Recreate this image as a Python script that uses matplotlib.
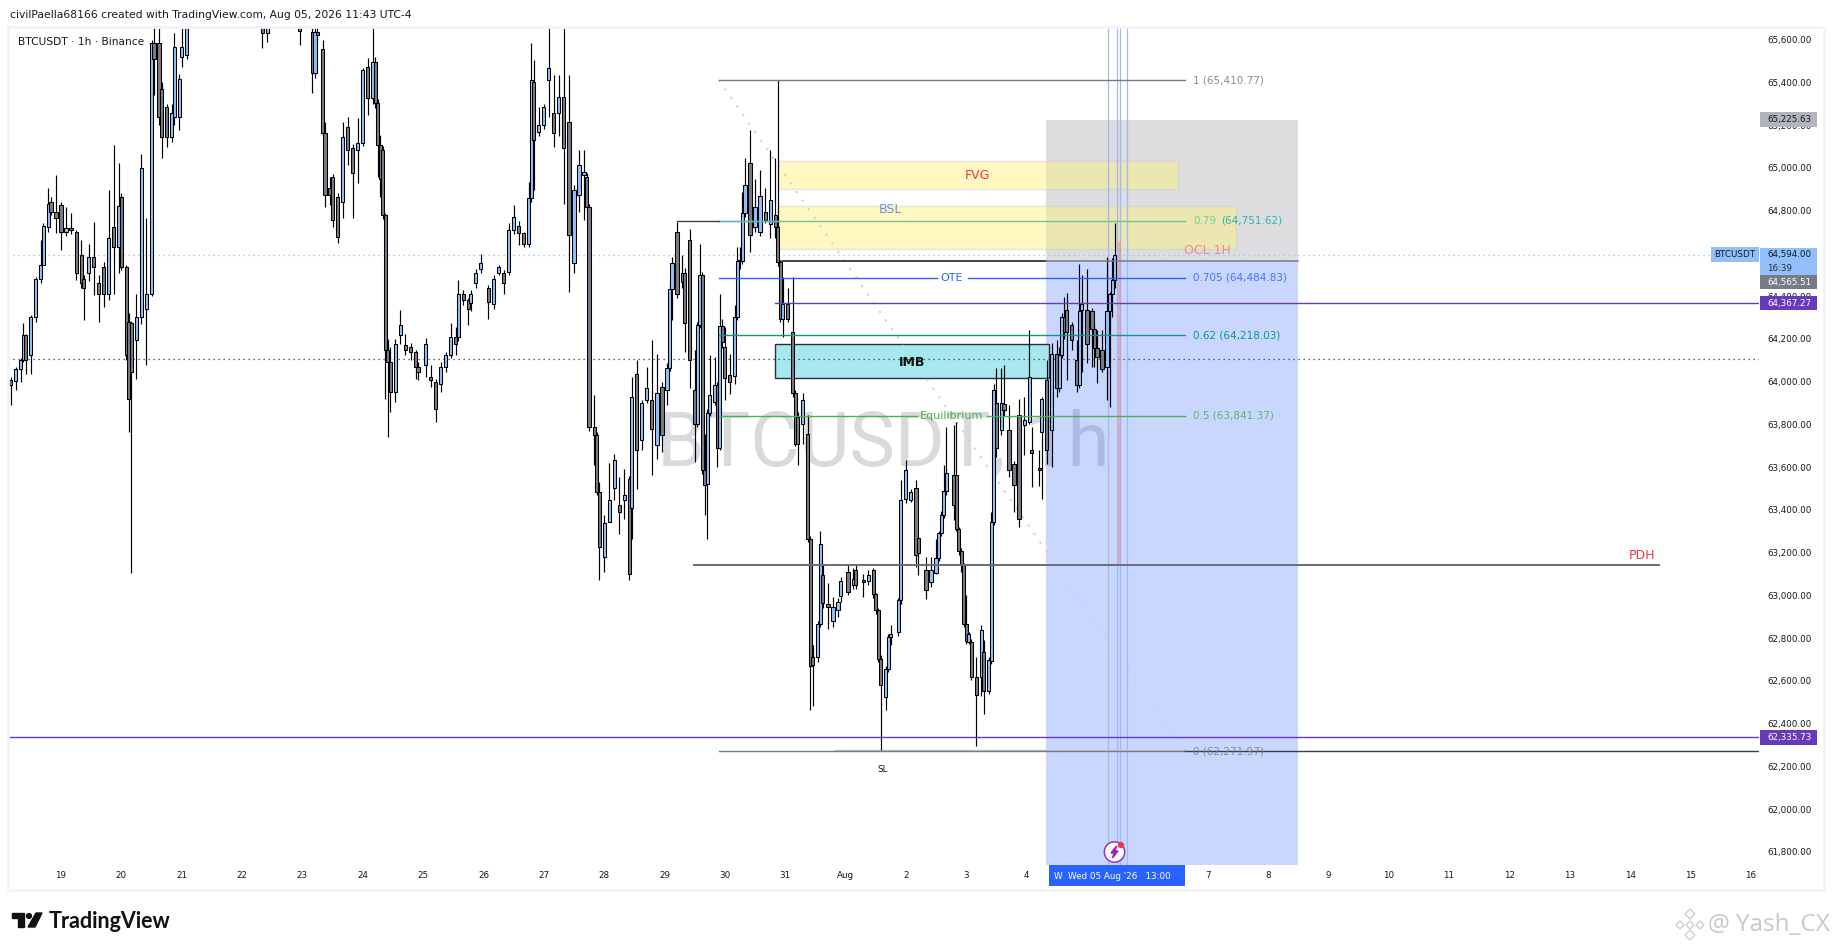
import matplotlib
matplotlib.use("Agg")
import matplotlib.pyplot as plt
from matplotlib.patches import Rectangle, Circle, Polygon

# === candles (hour counted from Jul 18 04:00) ===
hours = [0, 2, 4, 5, 6, 8, 10, 12, 13, 15, 16, 18, 20, 22, 24, 26, 28, 29, 31, 33,
         35, 37, 39, 41, 43, 44, 46, 47, 48, 50, 52, 54, 56, 57, 59, 60, 62, 64, 65, 67,
         68, 70, 74, 80, 86, 92, 98, 100, 102, 106, 112, 115, 120, 121, 122, 124, 125, 127, 128, 130,
         132, 134, 136, 138, 140, 142, 144, 145, 146, 147, 148, 149, 150, 151, 153, 155, 157, 159, 161, 162,
         165, 167, 169, 171, 173, 175, 177, 178, 180, 182, 183, 185, 187, 190, 192, 194, 196, 198, 200, 202,
         204, 206, 207, 208, 210, 212, 214, 216, 218, 220, 222, 224, 226, 228, 229, 230, 232, 233, 234, 236,
         238, 240, 242, 244, 246, 247, 249, 251, 253, 255, 257, 259, 261, 262, 263, 265, 267, 268, 270, 272,
         273, 274, 275, 276, 277, 278, 280, 281, 282, 283, 284, 286, 288, 289, 290, 291, 292, 294, 296, 298,
         300, 302, 304, 305, 306, 307, 309, 311, 312, 313, 315, 317, 318, 319, 321, 322, 323, 325, 327, 329,
         330, 333, 335, 336, 339, 341, 343, 344, 345, 346, 348, 349, 350, 353, 354, 356, 358, 360, 361, 364,
         366, 368, 369, 370, 371, 372, 375, 376, 377, 378, 379, 380, 381, 382, 384, 386, 387, 389, 390, 391,
         392, 394, 395, 397, 399, 401, 403, 405, 406, 409, 410, 412, 414, 416, 417, 418, 419, 420, 422, 424,
         425, 426, 428, 430, 431, 432, 434, 436, 437, 438, 439]
opens = [64007, 64001, 64061, 64103, 64217, 64123, 64303, 64478, 64545, 64724, 64841, 64794, 64826, 64701, 64720, 64701, 64592, 64482, 64506, 64584,
         64459, 64537, 64412, 64721, 64628, 64865, 64537, 64280, 64275, 64197, 64303, 64342, 64412, 65585, 65585, 65367, 65283, 65142, 65236, 65236,
         65520, 65530, 65700, 65820, 66000, 65950, 65900, 65850, 65629, 65700, 65850, 65800, 65637, 65442, 65637, 65554, 65164, 64904, 64958, 64865,
         64841, 65192, 65091, 65083, 65114, 65473, 65325, 65496, 65301, 65106, 65083, 64779, 64147, 64092, 63952, 64217, 64170, 64163, 64139, 64069,
         64077, 64022, 64000, 63990, 64069, 64123, 64209, 64209, 64412, 64381, 64368, 64459, 64529, 64436, 64365, 64506, 64506, 64514, 64709, 64727,
         64693, 64646, 64857, 65403, 65169, 65200, 65411, 65255, 65258, 65333, 65216, 64553, 64873, 64966, 64958, 64818, 63788, 63752, 63484, 63180,
         63344, 63503, 63425, 63445, 63543, 63411, 64038, 63729, 63913, 63913, 63702, 63975, 63963, 64066, 64431, 64698, 64506, 64506, 64662, 63963,
         63804, 64267, 64501, 63585, 63523, 63854, 63905, 63983, 63691, 64261, 64160, 64030, 64025, 64303, 64565, 64565, 64787, 65021, 64724, 64701,
         64794, 64735, 64779, 64721, 64560, 64295, 64365, 64230, 63947, 63835, 63803, 63753, 63265, 62711, 62711, 62867, 63094, 62961, 62880, 62930,
         62995, 63109, 63047, 63120, 63070, 63067, 63120, 63005, 62930, 62704, 62525, 62657, 62805, 62829, 62977, 63452, 63448, 63504, 63268, 63120,
         63063, 63105, 63176, 63292, 63378, 63488, 63565, 63565, 63312, 63207, 63140, 62867, 62782, 62782, 62618, 62618, 62735, 62555, 62693, 63343,
         63902, 63772, 63897, 63772, 63616, 63846, 63796, 63811, 63682, 63598, 63764, 64006, 63773, 64128, 63969, 64124, 64303, 64337, 64267, 64103,
         63986, 64334, 64334, 64330, 64248, 64158, 64147, 64069, 64330, 64408, 64475]
highs = [64022, 64069, 64110, 64272, 64225, 64310, 64490, 64662, 64740, 64904, 64865, 64966, 64840, 64818, 64787, 64710, 64662, 64500, 64646, 64748,
         64500, 64560, 64896, 65106, 65021, 64880, 64545, 64320, 64285, 64412, 65067, 64763, 65600, 65680, 65652, 65400, 65300, 65300, 65629, 65440,
         65652, 65800, 65900, 66050, 66100, 66000, 65950, 65900, 65800, 65900, 65900, 65850, 65700, 65700, 65700, 65600, 65216, 64958, 64970, 64880,
         65216, 65239, 65110, 65231, 65465, 65512, 65652, 65520, 65320, 65153, 65100, 64790, 64200, 64160, 64200, 64334, 64225, 64180, 64150, 64090,
         64202, 64080, 64010, 64090, 64140, 64272, 64256, 64475, 64430, 64390, 64428, 64529, 64599, 64450, 64500, 64545, 64520, 64740, 64826, 64750,
         64700, 64935, 65582, 65504, 65283, 65300, 65652, 65434, 65434, 65652, 65434, 64920, 65083, 65083, 64975, 64830, 63936, 63765, 63531, 63375,
         63620, 63663, 63554, 63589, 63560, 64022, 64100, 63913, 64069, 64197, 64131, 64000, 64085, 64467, 64584, 64748, 64592, 64530, 64716, 64147,
         64280, 64646, 64515, 63757, 63870, 64124, 64116, 64000, 64408, 64295, 64256, 64131, 64358, 64631, 64631, 64888, 65044, 65177, 64950, 64989,
         64904, 65083, 65044, 65410, 64570, 64490, 64436, 64490, 63960, 63860, 63947, 63846, 63280, 62766, 62880, 63300, 63140, 63059, 62992, 62990,
         63085, 63140, 63130, 63145, 63100, 63117, 63130, 63010, 62940, 62720, 62670, 62820, 62860, 62990, 63538, 63632, 63500, 63540, 63273, 63180,
         63180, 63265, 63300, 63395, 63608, 63788, 63796, 63811, 63320, 63220, 63150, 63000, 62830, 62795, 62711, 62860, 62790, 62710, 63390, 63991,
         64063, 64063, 64077, 63890, 63630, 63920, 63928, 64241, 63788, 63679, 63930, 64100, 64180, 64194, 64160, 64320, 64397, 64415, 64280, 64194,
         64548, 64498, 64525, 64345, 64264, 64241, 64241, 64584, 64420, 64576, 64740]
lows = [63890, 63960, 64000, 64090, 64038, 64038, 64280, 64460, 64615, 64700, 64780, 64693, 64615, 64680, 64690, 64475, 64440, 64287, 64470, 64404,
        64280, 64350, 64380, 64412, 64506, 64520, 64100, 63765, 63103, 64014, 64270, 64077, 64400, 65340, 65200, 65044, 65099, 65120, 65200, 65177,
        65473, 65510, 65680, 65780, 65900, 65850, 65840, 65559, 65590, 65680, 65680, 65574, 65351, 65420, 65590, 65150, 64818, 64826, 64724, 64649,
        64763, 65013, 64763, 64927, 65100, 65247, 65300, 65280, 64958, 64865, 64760, 63921, 63741, 63858, 63905, 64178, 64124, 64100, 64014, 64007,
        64022, 63975, 63812, 63952, 64046, 64110, 64124, 64190, 64360, 64264, 64330, 64440, 64510, 64295, 64340, 64500, 64412, 64500, 64690, 64640,
        64631, 64630, 64840, 64896, 65150, 65180, 65239, 65099, 65150, 64833, 64420, 64506, 64794, 64755, 64800, 63770, 63609, 63470, 63071, 63110,
        63398, 63445, 63289, 63359, 63071, 63266, 63500, 63679, 63900, 63562, 63640, 63671, 63890, 64050, 64287, 64389, 64440, 64139, 63968, 63624,
        63790, 64250, 63570, 63375, 63266, 63840, 63890, 63601, 63680, 64155, 63913, 63944, 63990, 64290, 64529, 64550, 64770, 64607, 64700, 64680,
        64740, 64670, 64670, 64540, 64280, 64209, 64280, 63930, 63700, 63608, 63710, 63250, 62462, 62485, 62690, 62850, 62940, 62844, 62852, 62900,
        62970, 63000, 63030, 63030, 62992, 63050, 62990, 62915, 62690, 62275, 62462, 62640, 62766, 62810, 62960, 63430, 63437, 63133, 63094, 62984,
        63040, 63101, 63160, 63280, 63360, 63470, 63351, 63300, 63190, 63109, 62850, 62774, 62774, 62605, 62298, 62530, 62446, 62540, 62680, 63330,
        63647, 63750, 63840, 63554, 63390, 63320, 63655, 63800, 63507, 63510, 63452, 63616, 63600, 63927, 63950, 64110, 64200, 64007, 64147, 63952,
        63970, 64046, 64085, 64069, 64069, 63994, 64046, 63913, 63880, 64300, 64440]
closes = [63983, 64061, 64103, 64217, 64103, 64303, 64478, 64545, 64727, 64833, 64794, 64763, 64701, 64720, 64708, 64506, 64459, 64440, 64584, 64537,
          64412, 64412, 64674, 64631, 64822, 64537, 64123, 63918, 64046, 64303, 65000, 64412, 65582, 65507, 65236, 65142, 65142, 65255, 65567, 65414,
          65567, 65700, 65820, 66000, 65950, 65900, 65850, 65629, 65700, 65850, 65800, 65640, 65442, 65637, 65620, 65164, 64872, 64872, 64755, 64677,
          65145, 65083, 64974, 65114, 65457, 65325, 65496, 65301, 65106, 64946, 64779, 64147, 64092, 63952, 64178, 64264, 64147, 64139, 64069, 64046,
          64178, 64007, 63874, 64069, 64123, 64209, 64178, 64412, 64381, 64342, 64412, 64506, 64553, 64373, 64482, 64537, 64462, 64709, 64768, 64693,
          64646, 64857, 65411, 65130, 65200, 65283, 65465, 65161, 65333, 65091, 64685, 64896, 65013, 64982, 64818, 63788, 63752, 63484, 63227, 63339,
          63448, 63635, 63391, 63472, 63102, 63926, 63682, 63902, 63968, 63780, 63949, 63749, 64066, 64431, 64557, 64412, 64467, 64272, 64100, 63804,
          64267, 64501, 63585, 63518, 63854, 63939, 63983, 63691, 64261, 64186, 64019, 63999, 64303, 64565, 64570, 64787, 64922, 64685, 64815, 64869,
          64755, 64849, 64721, 64560, 64295, 64365, 64295, 63947, 63710, 63710, 63916, 63265, 62672, 62675, 62867, 63242, 62964, 62945, 62945, 62969,
          63067, 63016, 63078, 63047, 63065, 63094, 63005, 62930, 62704, 62579, 62657, 62805, 62821, 62977, 63448, 63588, 63484, 63190, 63200, 63027,
          63120, 63176, 63292, 63378, 63488, 63573, 63421, 63312, 63207, 63140, 62867, 62786, 62821, 62618, 62535, 62836, 62555, 62696, 63343, 63963,
          63691, 63902, 63869, 63588, 63515, 63359, 63819, 64022, 63666, 63585, 63920, 63682, 64128, 63969, 64124, 64303, 64230, 64230, 64194, 63986,
          64330, 64365, 64178, 64248, 64158, 64116, 64061, 64330, 64408, 64475, 64594]

# price axis and day axis
y_ticks = [61800, 62000, 62200, 62400, 62600, 62800, 63000, 63200, 63400, 63600, 63800, 64000, 64200,
           64400, 64600, 64800, 65000, 65200, 65400, 65600]
day_ticks = [19, 20, 21, 22, 23, 24, 25, 26, 27, 28, 29, 30, 31, 32, 33, 34, 35, 38, 39, 40, 41, 42, 43, 44, 45, 46, 47]
day_labels = ["19", "20", "21", "22", "23", "24", "25", "26", "27", "28", "29", "30", "31", "Aug", "2", "3", "4",
              "7", "8", "9", "10", "11", "12", "13", "14", "15", "16"]
start_day = 18 + 4 / 24

# fib levels
fib_names = ["1", "0.705", "0.62", "0.5", "0"]
fib_prices = [65410.77, 64484.83, 64218.03, 63841.37, 62271.97]
fib_colors = ["#787b86", "#2962ff", "#089981", "#4caf50", "#787b86"]
fib_79 = 64751.62
fib_x = [29.90, 37.63]

last_price = 64594.00
purple_prices = [64367.27, 62335.73]
entry_price = 64565.51
target_price = 65225.63
pdh_price = 63141
dotted_price = 64105

W, H = 1835, 951
fig = plt.figure(figsize=(W / 100, H / 100), dpi=100, facecolor="white")
ax = fig.add_axes([8 / W, 1 - 865 / H, 1751 / W, 838 / H])
ax.set_xlim(18.1218, 47.1363)
ax.set_ylim(61739.1, 65658.7)
for s in ax.spines.values():
    s.set_visible(False)

# frame around pane and scales
fig.add_artist(Rectangle((8 / W, 1 - 890 / H), 1816 / W, 863 / H, transform=fig.transFigure,
                         fill=False, edgecolor="#f2f3f5", linewidth=2))

# ticks
ax.yaxis.tick_right()
ax.set_yticks(y_ticks)
ax.set_yticklabels([f"{v:,.2f}" for v in y_ticks], fontsize=6.3, color="#131722")
ax.tick_params(axis="y", length=0, pad=5.8)
ax.set_xticks(day_ticks)
ax.set_xticklabels(day_labels, fontsize=6.3, color="#131722")
ax.tick_params(axis="x", length=0, pad=4.5)

# watermark
ax.text(32.62, 63700, "BTCUSDT, 1h", fontsize=55, color="#d9dadd", family="Roboto",
        ha="center", va="center", zorder=0.5)

# boxes
box_x = [35.32, 39.505]
ax.add_patch(Rectangle((box_x[0], entry_price), box_x[1] - box_x[0], target_price - entry_price,
                       facecolor="#787b86", alpha=0.25, edgecolor="none", zorder=1))
ax.add_patch(Rectangle((box_x[0], 61739.1), box_x[1] - box_x[0], entry_price - 61739.1,
                       facecolor="#2962ff", alpha=0.25, edgecolor="none", zorder=1))
ax.add_patch(Rectangle((30.889, 64900), 37.503 - 30.889, 65032 - 64900,
                       facecolor="#fff176", alpha=0.45, edgecolor="#c9cbd1", linewidth=1, zorder=1.2))
ax.add_patch(Rectangle((30.889, 64620), 38.47 - 30.889, 64821 - 64620,
                       facecolor="#fff176", alpha=0.45, edgecolor="#c9cbd1", linewidth=1, zorder=1.2))
ax.add_patch(Rectangle((30.837, 64016), 35.378 - 30.837, 64175 - 64016,
                       facecolor="#a5e8ef", edgecolor="#2a2e39", linewidth=1, zorder=1.3))

# dotted trend line of the fib
ax.plot([29.90, 37.63], [65410.77, 62271.97], color="#cfd0d5", lw=1.5, ls=(0, (1, 4)), zorder=1.4)

# dotted price lines
ax.axhline(last_price, color="#90bff9", lw=0.9, ls=(0, (1, 3)), zorder=1.5)
ax.axhline(dotted_price, color="#333333", lw=0.9, ls=(0, (1, 3)), zorder=1.5)

# vertical lines
for vx in [36.342, 36.506, 36.548, 36.672]:
    ax.axvline(vx, color="#9fb9f7", lw=0.9, zorder=1.6)
ax.plot([36.527, 36.527], [pdh_price, 64657], color="#e8888e", lw=1.8, alpha=0.6, zorder=1.7, solid_capstyle="butt")

# candles
days = [start_day + h / 24 for h in hours]
body_w = 0.052
for x, o, hi, lo, c in zip(days, opens, highs, lows, closes):
    ax.plot([x, x], [lo, hi], color="black", lw=0.85, zorder=3, solid_capstyle="butt")
    ax.add_patch(Rectangle((x - body_w / 2, min(o, c)), body_w, abs(c - o),
                           facecolor="#90bff9" if c >= o else "#787b86",
                           edgecolor="black", linewidth=0.75, zorder=3.1))

# fib lines, OTE and Equilibrium keep a gap for the label
for name, p, col in zip(fib_names, fib_prices, fib_colors):
    if name == "0.705":
        ax.plot([fib_x[0], 33.515], [p, p], color=col, lw=1, zorder=4)
        ax.plot([34.029, fib_x[1]], [p, p], color=col, lw=1, zorder=4)
    elif name == "0.5":
        ax.plot([fib_x[0], 33.184], [p, p], color=col, lw=1, zorder=4)
        ax.plot([34.344, fib_x[1]], [p, p], color=col, lw=1, zorder=4)
    else:
        ax.plot(fib_x, [p, p], color=col, lw=1, zorder=4)
    ax.text(37.757, p, f"{name} ({p:,.2f})", color=col, fontsize=7.5, va="center", zorder=6,
            alpha=0.85 if name not in ("0.62",) else 1)
ax.plot(fib_x, [fib_79, fib_79], color="#6fc49a", lw=1, zorder=4)
ax.plot([29.90, 30.9], [fib_79, fib_79], color="#5bb6c4", lw=1, zorder=4)
ax.plot([29.207, 29.90], [fib_79, fib_79], color="#444444", lw=1, zorder=4)
ax.text(37.757, fib_79, "0.79", color="#6fcf97", fontsize=7.5, va="center", zorder=6)
ax.text(38.22, fib_79, f"({fib_79:,.2f})", color="#27b5b5", fontsize=7.5, va="center", zorder=6)

# horizontal lines
ax.plot([37.63, 47.1363], [62271.97, 62271.97], color="#3a3d46", lw=1, zorder=4)
ax.plot([31.825, 37.63], [62279, 62279], color="#c4c6cc", lw=1, zorder=1.9)
ax.plot([30.947, 35.322], [entry_price, entry_price], color="#111111", lw=1.1, zorder=4)
ax.plot([35.322, 39.505], [entry_price, entry_price], color="#787b86", lw=1.1, zorder=4)
ax.plot([29.489, 45.48], [pdh_price, pdh_price], color="#6a6d76", lw=1.4, zorder=4)
ax.plot([30.831, 47.1363], [purple_prices[0], purple_prices[0]], color="#673ab7", lw=1, zorder=4)
ax.plot([18.1218, 47.1363], [purple_prices[1], purple_prices[1]], color="#673ab7", lw=1, zorder=4)

# labels on drawings
ax.text(34.178, 64966, "FVG", color="#f23645", fontsize=9, ha="center", va="center", zorder=6)
ax.text(32.737, 64807, "BSL", color="#6f8fd8", fontsize=9, ha="center", va="center", zorder=6)
ax.text(37.99, 64615, "OCL 1H", color="#ef8a92", fontsize=9, ha="center", va="center", zorder=6)
ax.text(33.10, 64090, "IMB", color="#111111", fontsize=9, weight="bold", ha="center", va="center", zorder=6)
ax.text(33.764, 64484.83, "OTE", color="#2962ff", fontsize=8, ha="center", va="center", zorder=6)
ax.text(33.764, 63841.37, "Equilibrium", color="#4caf50", fontsize=8, ha="center", va="center", zorder=6)
ax.text(32.62, 62186, "SL", color="#111111", fontsize=6.3, ha="center", va="center", zorder=6)
ax.text(45.2, 63185, "PDH", color="#f23645", fontsize=9, ha="center", va="center", zorder=6)

# price tags on the right scale
yt = ax.get_yaxis_transform()


def tag(center, half, text, bg, fg):
    ax.add_patch(Rectangle((1.0006, center - half), 0.0325, 2 * half, transform=yt, clip_on=False,
                           facecolor=bg, edgecolor="none", zorder=10))
    ax.text(1.0046, center, text, transform=yt, color=fg, fontsize=6.3, va="center", ha="left", zorder=11)


tag(target_price, 35, f"{target_price:,.2f}", "#b2b5be", "#131722")
ax.add_patch(Rectangle((1.0006, 64498), 0.0325, 127, transform=yt, clip_on=False,
                       facecolor="#90bff9", edgecolor="none", zorder=10))
ax.text(1.0046, last_price, f"{last_price:,.2f}", transform=yt, color="#131722", fontsize=6.3, va="center", zorder=11)
ax.text(1.0046, 64530, "16:39", transform=yt, color="#2a2e39", fontsize=6.3, va="center", zorder=11)
tag(64465, 33, f"{entry_price:,.2f}", "#787b86", "white")
tag(purple_prices[0], 34, f"{purple_prices[0]:,.2f}", "#673ab7", "white")
tag(purple_prices[1], 34, f"{purple_prices[1]:,.2f}", "#673ab7", "white")
ax.add_patch(Rectangle((0.9726, last_price - 35), 0.0274, 70, transform=yt, clip_on=False,
                       facecolor="#90bff9", edgecolor="none", zorder=10))
ax.text(0.9863, last_price, "BTCUSDT", transform=yt, color="#131722", fontsize=6.3, ha="center", va="center", zorder=11)

# time tag on the bottom scale
xt = ax.get_xaxis_transform()
ax.add_patch(Rectangle((35.378, -0.0251), 37.63 - 35.378, 0.0251, transform=xt, clip_on=False,
                       facecolor="#2962ff", edgecolor="none", zorder=10))
ax.text(35.52, -0.0143, "W", transform=xt, color="white", fontsize=6.3, ha="center", va="center", zorder=11, clip_on=False)
ax.text(36.54, -0.0143, "Wed 05 Aug '26   13:00", transform=xt, color="white", fontsize=6.3, ha="center", va="center", zorder=11)

# overlay in pixels for header, logos and icon
ov = fig.add_axes([0, 0, 1, 1], zorder=5)
ov.set_xlim(0, W)
ov.set_ylim(H, 0)
ov.axis("off")
ov.patch.set_alpha(0)

ov.text(10, 15, "civilPaella68166 created with TradingView.com, Aug 05, 2026 11:43 UTC-4", fontsize=7.75,
        color="#131722", va="center")
ov.text(18, 42, "BTCUSDT · 1h · Binance", fontsize=7.7, color="#131722", va="center",
        bbox=dict(facecolor="white", alpha=0.7, edgecolor="none", pad=1.5))

# TradingView logo
ov.add_patch(Polygon([(12, 913), (24, 913), (24, 927), (18, 927), (18, 918), (12, 918)], color="#111111"))
ov.add_patch(Circle((29, 916), 2.4, color="#111111"))
ov.add_patch(Polygon([(36, 913), (42, 913), (35, 927), (28, 927)], color="#111111"))
ov.text(49, 921, "TradingView", fontsize=15.5, family="Lato", weight="bold", color="#111111", va="center")

# lightning icon
ov.add_patch(Circle((1114.5, 852), 10.2, facecolor="white", edgecolor="#9c27b0", linewidth=1.1, alpha=0.95))
ov.add_patch(Polygon([(1116.5, 846), (1111, 853), (1114, 853), (1112.5, 858), (1118, 851), (1115, 851)], color="#9c27b0"))
ov.add_patch(Circle((1121, 845), 2.5, color="#f23645"))

# watermark bottom right
for cx, cy, r in [(1690, 914, 5), (1680, 925, 4), (1700, 925, 4), (1690, 925, 4), (1690, 935, 5)]:
    ov.add_patch(Polygon([(cx - r, cy), (cx, cy - r), (cx + r, cy), (cx, cy + r)], closed=True,
                         fill=False, edgecolor="#cfcfcf", linewidth=1))
ov.text(1708, 925, "@ Yash_CX", fontsize=17.5, family="Open Sans", color="#c9c9c9", va="center")

fig.savefig("out.png", dpi=100, facecolor="white")
plt.close(fig)
